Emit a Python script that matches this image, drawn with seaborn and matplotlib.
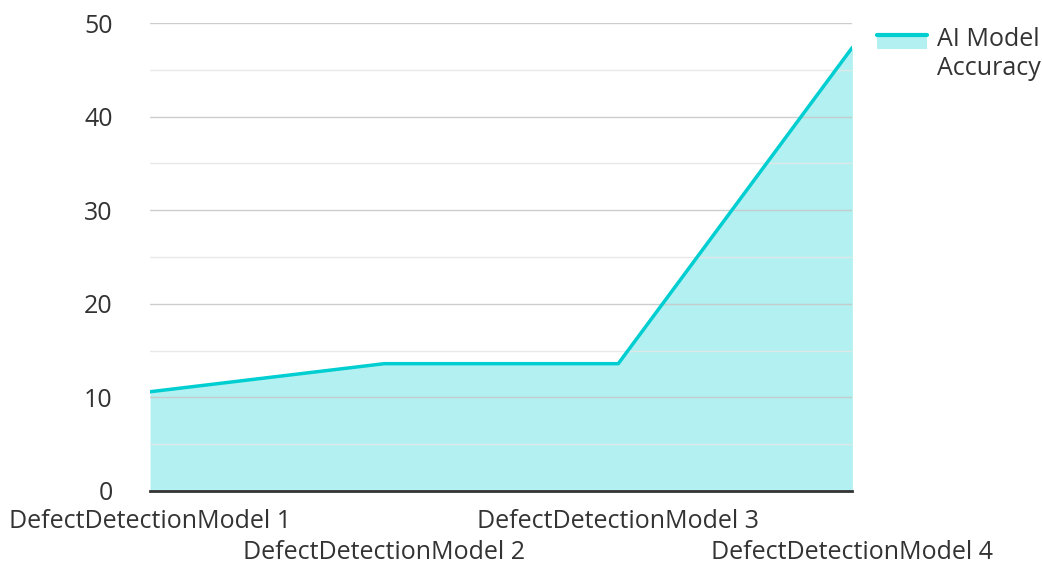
import matplotlib
matplotlib.use("Agg")
import matplotlib.pyplot as plt
import matplotlib.transforms as mtransforms
import seaborn as sns
import pandas as pd
from matplotlib.lines import Line2D
from matplotlib.patches import Patch, Rectangle
from matplotlib.legend_handler import HandlerBase
from matplotlib.ticker import MultipleLocator

# Datos
modelos = ['DefectDetectionModel 1', 'DefectDetectionModel 2',
           'DefectDetectionModel 3', 'DefectDetectionModel 4']
precision = [10.6, 13.6, 13.6, 47.4]
serie = 'AI Model\nAccuracy'

df = pd.DataFrame({'x': range(len(modelos)), 'valor': precision})

sns.set_style('white')
plt.rcParams['font.family'] = ['Open Sans', 'DejaVu Sans']

color_linea = '#00CED1'
color_area = '#B2F0F1'
texto = '#333333'
fs = 18


# Mango de leyenda: línea arriba, área debajo
class HandlerArea(HandlerBase):
    def create_artists(self, legend, orig, xd, yd, w, h, fontsize, trans):
        sube = 0.5 * fontsize
        r = Rectangle((-xd, -yd + sube), w, h, facecolor=color_area,
                      edgecolor='none', transform=trans)
        l = Line2D([-xd, -xd + w], [-yd + h + sube] * 2, color=color_linea,
                   lw=3, transform=trans)
        return [r, l]


fig = plt.figure(figsize=(10.42, 5.63), dpi=100)
ax = fig.add_axes([0.144, 0.128, 0.674, 0.831])

ax.fill_between(df['x'], 0, df['valor'], color=color_area, lw=0, zorder=2)
sns.lineplot(data=df, x='x', y='valor', ax=ax, color=color_linea, lw=2.5, zorder=3)

ax.set_xlim(0, len(modelos) - 1)
ax.set_ylim(0, 50)
ax.yaxis.set_major_locator(MultipleLocator(10))
ax.yaxis.set_minor_locator(MultipleLocator(5))
ax.set_axisbelow(False)
ax.grid(axis='y', which='major', color='#c8c8c8', lw=1, alpha=0.9)
ax.grid(axis='y', which='minor', color='#e6e6e6', lw=1, alpha=0.9)

ax.set_xticks(range(len(modelos)))
ax.set_xticklabels(modelos, fontsize=fs, color=texto)
ax.tick_params(axis='x', length=0, pad=13)
ax.tick_params(axis='y', which='both', length=0, pad=27, labelsize=fs, labelcolor=texto)
ax.set_xlabel('')
ax.set_ylabel('')

# etiquetas alternas en una segunda fila
baja = mtransforms.ScaledTranslation(0, -31 / 100, fig.dpi_scale_trans)
for i, lab in enumerate(ax.get_xticklabels()):
    if i % 2 == 1:
        lab.set_transform(lab.get_transform() + baja)

for s in ['top', 'right', 'left']:
    ax.spines[s].set_visible(False)
ax.spines['bottom'].set_color(texto)
ax.spines['bottom'].set_linewidth(2)
ax.spines['bottom'].set_zorder(4)

ax.legend([Patch()], [serie], handler_map={Patch: HandlerArea()},
          loc='upper left', bbox_to_anchor=(1.0356, 0.992), frameon=False,
          borderaxespad=0, borderpad=0,
          fontsize=fs, labelcolor=texto, handlelength=2.0, handleheight=0.48,
          handletextpad=0.4)

fig.savefig('out.png', dpi=100)
